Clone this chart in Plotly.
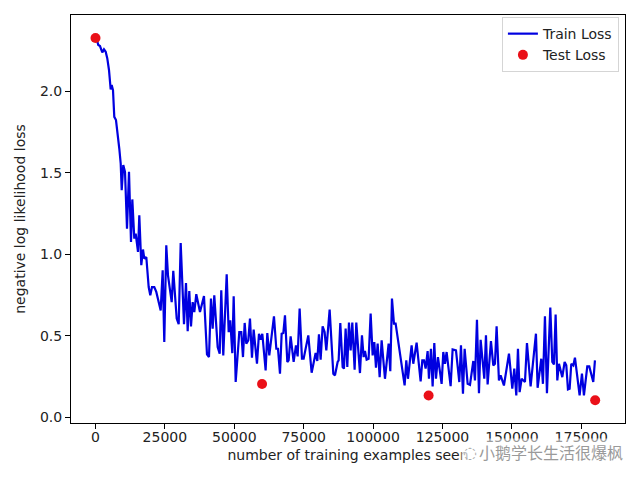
import plotly.graph_objects as go

train_counter = [
    430, 1010, 1620, 2450, 3060, 3670, 4250, 4860, 5470, 5830, 6300, 6770, 7380, 8000, 8570, 9080,
    9440, 10010, 10630, 11350, 12070, 12790, 13260, 13980, 14480, 15310, 15780, 16500, 17110, 17580,
    18300, 19160, 19740, 20350, 21180, 21900, 23480, 24200, 24780, 25500, 26110, 27450, 28020, 29250,
    29970, 30690, 31880, 32600, 33210, 33790, 34400, 35010, 35590, 36310, 37640, 39080, 40160, 40880,
    41600, 42210, 42790, 44010, 44740, 45310, 46030, 47260, 47980, 48550, 49270, 49780, 50500, 51800,
    52520, 53130, 53740, 54320, 55040, 55650, 56370, 56980, 58170, 58890, 59490, 60090, 61290, 61890,
    62610, 64290, 65140, 65740, 66460, 67060, 67660, 68260, 69100, 69580, 70300, 71380, 72220, 72820,
    73540, 74380, 74980, 76660, 77860, 79300, 79900, 80500, 81100, 81820, 82540, 83150, 84350, 85670,
    86270, 87230, 87590, 88190, 89030, 89510, 90110, 90710, 91310, 91910, 92510, 93350, 93950, 95270,
    95990, 96590, 97070, 97670, 98390, 99120, 99840, 100440, 101040, 101640, 102360, 103080, 104280,
    105600, 106200, 106800, 107520, 108120, 111360, 111960, 112560, 113880, 114480, 115680, 117130,
    117730, 118330, 118930, 119650, 120130, 120850, 121450, 122050, 122650, 123370, 124690, 125290,
    125890, 126490, 127930, 128650, 129860, 131060, 131660, 132380, 132980, 134060, 134900, 136100,
    136700, 137420, 138140, 138740, 140060, 140660, 141260, 142460, 143300, 143900, 144500, 145340,
    145940, 147140, 148950, 150150, 150870, 151590, 152190, 152790, 153510, 154710, 155430, 156750,
    158670, 159270, 160590, 161190, 161910, 162630, 163840, 164560, 165160, 165760, 166360, 166960,
    168160, 169000, 169600, 170200, 170800, 171400, 172120, 172720, 174400, 175240, 175960, 177160,
    177880, 179320, 179920,
]
train_loss = [
    2.317, 2.282, 2.276, 2.237, 2.256, 2.241, 2.200, 2.129, 2.010, 2.037, 2.006, 1.842, 1.822, 1.740, 1.648, 1.556,
    1.393, 1.546, 1.505, 1.157, 1.505, 1.075, 1.336, 1.096, 1.127, 1.014, 1.239, 0.933, 1.029, 0.973,
    0.983, 0.799, 0.748, 0.799, 0.799, 0.769, 0.656, 0.902, 0.462, 1.055, 0.871, 0.707, 0.898, 0.606,
    0.571, 1.069, 0.571, 0.824, 0.529, 0.775, 0.558, 0.707, 0.646, 0.755, 0.646, 0.744, 0.387, 0.370,
    0.728, 0.544, 0.748, 0.431, 0.391, 0.779, 0.380, 0.877, 0.523, 0.595, 0.394, 0.742, 0.217, 0.523,
    0.523, 0.370, 0.579, 0.452, 0.472, 0.606, 0.366, 0.538, 0.329, 0.513, 0.476, 0.513, 0.288, 0.517,
    0.380, 0.620, 0.421, 0.421, 0.268, 0.513, 0.517, 0.626, 0.340, 0.350, 0.497, 0.340, 0.442, 0.374,
    0.667, 0.360, 0.360, 0.503, 0.274, 0.395, 0.346, 0.509, 0.354, 0.558, 0.523, 0.411, 0.661, 0.268,
    0.258, 0.340, 0.350, 0.579, 0.309, 0.299, 0.544, 0.309, 0.581, 0.411, 0.581, 0.292, 0.581, 0.272,
    0.503, 0.370, 0.407, 0.354, 0.360, 0.636, 0.380, 0.462, 0.305, 0.452, 0.247, 0.472, 0.237,
    0.452, 0.284, 0.728, 0.575, 0.575, 0.196, 0.350, 0.237, 0.442, 0.329, 0.458, 0.221,
    0.350, 0.350, 0.299, 0.407, 0.237, 0.421, 0.190, 0.456, 0.237, 0.370, 0.206, 0.401,
    0.329, 0.401, 0.192, 0.417, 0.411, 0.217, 0.442, 0.145, 0.421, 0.206, 0.200, 0.346,
    0.227, 0.599, 0.149, 0.476, 0.237, 0.503, 0.202, 0.468, 0.319, 0.329, 0.558, 0.227,
    0.258, 0.196, 0.391, 0.176, 0.299, 0.135, 0.421, 0.155, 0.237, 0.217, 0.456, 0.190,
    0.513, 0.182, 0.360, 0.206, 0.620, 0.149, 0.673, 0.340, 0.325, 0.630, 0.227, 0.329,
    0.247, 0.340, 0.319, 0.172, 0.176, 0.329, 0.319, 0.366, 0.135, 0.268, 0.135, 0.313,
    0.313, 0.217, 0.350,
]
test_counter = [0, 60000, 120000, 180000]
test_loss = [2.325, 0.205, 0.135, 0.105]

x_ticks = [0, 25000, 50000, 75000, 100000, 125000, 150000, 175000]
y_ticks = [0.0, 0.5, 1.0, 1.5, 2.0]
y_labels = ["0.0", "0.5", "1.0", "1.5", "2.0"]

font_name = "DejaVu Sans"

fig = go.Figure()
fig.add_trace(go.Scatter(x=train_counter, y=train_loss, mode="lines", name="Train Loss",
                         line=dict(color="#0000e0", width=2.2)))
fig.add_trace(go.Scatter(x=test_counter, y=test_loss, mode="markers", name="Test Loss",
                         marker=dict(color="#ea1018", size=10)))

axis_style = dict(showgrid=False, zeroline=False, showline=True, linecolor="black", linewidth=1,
                  mirror=True, ticks="outside", ticklen=5, tickcolor="black",
                  tickfont=dict(family=font_name, size=14, color="#222"))
fig.update_xaxes(range=[-8825, 190750], tickvals=x_ticks, ticktext=[str(t) for t in x_ticks],
                 ticklabelstandoff=-4,
                 title=dict(text="number of training examples seen", standoff=6,
                            font=dict(family=font_name, size=14, color="#222")), **axis_style)
fig.update_yaxes(range=[-0.034, 2.466], tickvals=y_ticks, ticktext=y_labels,
                 title=dict(text="negative log likelihood loss", standoff=11,
                            font=dict(family=font_name, size=14, color="#222")), **axis_style)

# the page body has an 8px margin, so the figure is a bit smaller than the window
fig.update_layout(
    width=632, height=472, margin=dict(l=63, r=15, t=7, b=57), autosize=False,
    plot_bgcolor="white", paper_bgcolor="white", font=dict(family=font_name, size=14),
    legend=dict(x=0.989, y=0.995, xanchor="right", yanchor="top", bgcolor="rgba(255,255,255,0.8)",
                bordercolor="#d5d5d5", borderwidth=1, font=dict(family=font_name, size=14, color="#222")),
)

# watermark sitting over the axis label
fig.add_annotation(text="◌", xref="paper", yref="paper", x=0.72, y=-0.072,
                   xanchor="center", yanchor="middle", showarrow=False, bgcolor="rgba(255,255,255,0.7)",
                   font=dict(family=font_name, size=16, color="#aaaaaa"))
fig.add_annotation(text="小鹅学长生活很爆枫", xref="paper", yref="paper", x=1.0, y=-0.072,
                   xanchor="right", yanchor="middle", showarrow=False, bgcolor="rgba(255,255,255,0.55)",
                   font=dict(family="Noto Sans CJK SC", size=16, color="#9a9a9a"))

fig.write_html("out.html")
